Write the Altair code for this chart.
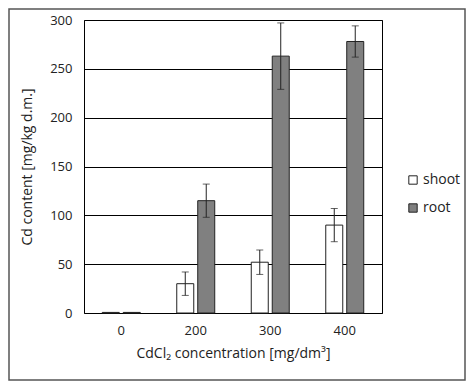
import altair as alt
import pandas as pd

categories = ["0", "200", "300", "400"]
series = ["shoot", "root"]
shoot = [0.6, 30, 52, 90]
shoot_err = [0, 12, 12.5, 17]
root = [0.6, 115, 263, 278]
root_err = [0, 17, 34, 16]

rows = []
for i, c in enumerate(categories):
    rows.append({"conc": c, "part": "shoot", "value": shoot[i], "lo": shoot[i] - shoot_err[i], "hi": shoot[i] + shoot_err[i], "err": shoot_err[i]})
    rows.append({"conc": c, "part": "root", "value": root[i], "lo": root[i] - root_err[i], "hi": root[i] + root_err[i], "err": root_err[i]})
df = pd.DataFrame(rows)

FONT = "Open Sans"
W, H = 298, 293

x = alt.X("conc:N", sort=categories, title="CdCl₂ concentration [mg/dm³]",
          scale=alt.Scale(paddingInner=0, paddingOuter=0),
          axis=alt.Axis(labelAngle=0, ticks=False, domain=False, labelPadding=11,
                        titlePadding=9, grid=False))
xo = alt.XOffset("part:N", sort=series,
                 scale=alt.Scale(paddingInner=0.19, paddingOuter=0.87))
y = alt.Y("value:Q", title="Cd content [mg/kg d.m.]",
          scale=alt.Scale(domain=[0, 300], nice=False),
          axis=alt.Axis(values=[0, 50, 100, 150, 200, 250, 300], ticks=False, domain=False,
                        labelPadding=12, titlePadding=15, grid=True, gridColor="#000000",
                        gridOpacity=1, gridWidth=1))

base = alt.Chart(df)
bars = base.mark_bar(stroke="#222222", strokeWidth=1).encode(
    x=x, xOffset=xo, y=y,
    color=alt.Color("part:N", sort=series,
                    scale=alt.Scale(domain=series, range=["#ffffff", "#808080"]),
                    legend=alt.Legend(title=None, orient="none", legendX=322, legendY=153,
                                      symbolType="square", symbolSize=70,
                                      symbolStrokeColor="#222222", symbolStrokeWidth=1,
                                      labelFontSize=14, rowPadding=14, labelFont=FONT,
                                      labelOffset=3, labelColor="#222222")),
)
errs = base.transform_filter("datum.err > 0")
rule = errs.mark_rule(color="#222222", strokeWidth=1).encode(
    x=x, xOffset=xo, y="lo:Q", y2="hi:Q")
cap_lo = errs.mark_tick(color="#222222", thickness=1, size=7).encode(
    x=x, xOffset=xo, y="lo:Q")
cap_hi = errs.mark_tick(color="#222222", thickness=1, size=7).encode(
    x=x, xOffset=xo, y="hi:Q")

frame = alt.Chart(alt.Data(values=[{"a": 1}])).mark_rect(
    fill=None, stroke="#555555", strokeWidth=1.5).encode(
    x=alt.value(-75), x2=alt.value(W + 83), y=alt.value(-11), y2=alt.value(H + 67))

chart = alt.layer(bars, rule, cap_lo, cap_hi, frame).properties(
    width=W, height=H,
    background="#ffffff",
    autosize=alt.AutoSizeParams(type="none"),
    padding={"left": 76, "top": 12, "right": 84, "bottom": 68},
).configure_view(stroke="#000000", strokeWidth=1).configure_axis(
    labelFont=FONT, titleFont=FONT, labelFontSize=13, titleFontSize=14,
    labelColor="#222222", titleColor="#222222", titleFontWeight="normal"
)

chart.save("out.html", embed_options={"renderer": "svg", "actions": False})
